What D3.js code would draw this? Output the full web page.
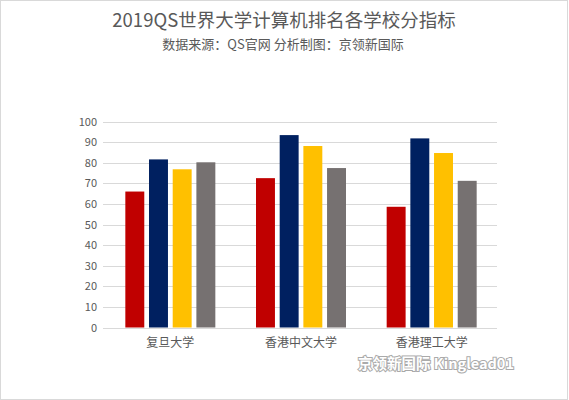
<!DOCTYPE html>
<html><head><meta charset="utf-8">
<script src="https://cdn.jsdelivr.net/npm/d3@7"></script>
<style>body{margin:0;background:#fff}svg{display:block}</style>
</head><body>
<script>
const categories = ["复旦大学", "香港中文大学", "香港理工大学"];
const seriesNames = ["指标1", "指标2", "指标3", "指标4"];
const seriesColors = ["#c00000", "#002060", "#ffc000", "#767171"];
const seriesValues = [
  [66, 72.5, 58.6],
  [81.6, 93.4, 91.8],
  [76.8, 88.1, 84.7],
  [80.2, 77.4, 71.2]
];
const yTicks = [0, 10, 20, 30, 40, 50, 60, 70, 80, 90, 100];
const titleText = "2019QS世界大学计算机排名各学校分指标";
const subtitleText = "数据来源：QS官网 分析制图：京领新国际";
const watermarkText = "京领新国际 Kinglead01";

const W = 569, H = 400;
const svg = d3.select("body").append("svg").attr("width", W).attr("height", H);
const font = "'Microsoft YaHei','Noto Sans CJK SC',sans-serif";

svg.append("rect").attr("x", 0.5).attr("y", 0.5).attr("width", W - 2).attr("height", H - 1)
  .attr("fill", "#fff").attr("stroke", "#d9d9d9");

const y = d3.scaleLinear().domain([0, 100]).range([327.5, 121.5]);
const x0 = d3.scaleBand().domain(categories).range([105, 497]).padding(0);
const x1 = d3.scaleBand().domain(d3.range(seriesNames.length)).range([-45, 45]).paddingInner(0.2);

// gridlines
svg.append("g").selectAll("line").data(yTicks).join("line")
  .attr("x1", 103).attr("x2", 497)
  .attr("y1", d => Math.round(y(d)) + 0.5).attr("y2", d => Math.round(y(d)) + 0.5)
  .attr("stroke", "#d9d9d9").attr("stroke-width", 1);

// y axis labels
const yAxis = d3.axisLeft(y).tickValues(yTicks).tickSize(0).tickPadding(0);
const ya = svg.append("g").attr("transform", "translate(97,0)").call(yAxis);
ya.select(".domain").remove();
ya.selectAll("text").attr("fill", "#595959").style("font-family", font).style("font-size", "11px");

// bars
const groups = svg.append("g").selectAll("g").data(categories).join("g")
  .attr("transform", d => `translate(${x0(d) + x0.bandwidth() / 2},0)`);
groups.selectAll("rect").data((c, ci) => seriesValues.map((vals, si) => ({si, v: vals[ci]})))
  .join("rect")
  .attr("x", d => x1(d.si)).attr("width", x1.bandwidth())
  .attr("y", d => y(d.v)).attr("height", d => y(0) - y(d.v))
  .attr("fill", d => seriesColors[d.si]);

// baseline
svg.append("line").attr("x1", 103).attr("x2", 497).attr("y1", Math.round(y(0)) + 0.5).attr("y2", Math.round(y(0)) + 0.5)
  .attr("stroke", "#d9d9d9");

// x axis labels
const xAxis = d3.axisBottom(x0).tickSize(0).tickPadding(0);
const xa = svg.append("g").attr("transform", "translate(0,338)").call(xAxis);
xa.select(".domain").remove();
xa.selectAll("text").attr("fill", "#595959").style("font-family", font).style("font-size", "12px");

// title
svg.append("text").attr("x", 284).attr("y", 27).attr("text-anchor", "middle")
  .attr("fill", "#595959").style("font-family", font).style("font-size", "18.5px").text(titleText);
svg.append("text").attr("x", 283).attr("y", 49).attr("text-anchor", "middle")
  .attr("fill", "#595959").style("font-family", font).style("font-size", "13px").text(subtitleText);

// watermark
svg.append("text").attr("x", 436).attr("y", 369).attr("text-anchor", "middle")
  .attr("fill", "#fff").attr("stroke", "#aaaaaa").attr("stroke-width", 2).attr("paint-order", "stroke")
  .style("font-family", font).style("font-size", "14.5px").style("font-weight", "bold").text(watermarkText);
</script>
</body></html>
